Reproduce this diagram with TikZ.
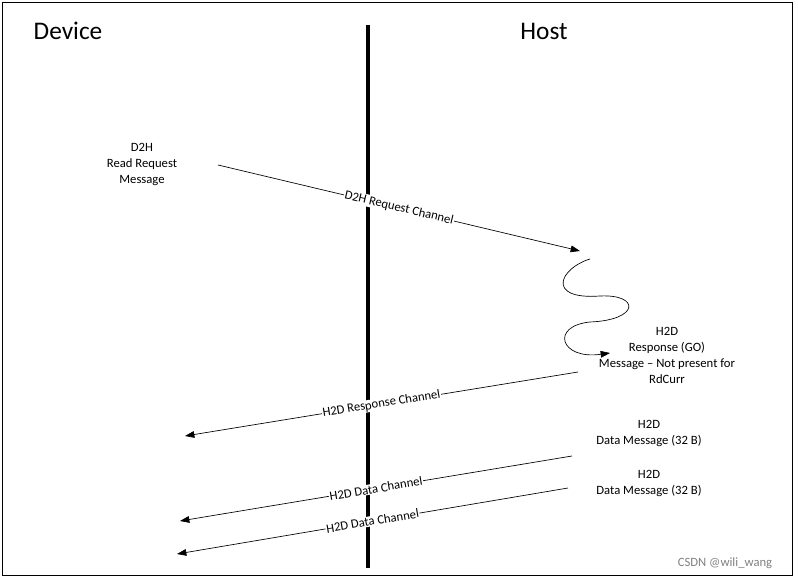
\documentclass[tikz,border=0pt]{standalone}
\usepackage{fontspec}
\setmainfont{Carlito}
\usetikzlibrary{arrows.meta}
\begin{document}
\begin{tikzpicture}[x=0.75pt,y=-0.75pt,
  msg/.style={-{Triangle[length=7pt,width=5pt]},line width=0.5pt},
  lbl/.style={font=\fontsize{9.5}{11}\selectfont,fill=white,inner sep=0.5pt,sloped},
  txt/.style={font=\fontsize{9.5}{12}\selectfont,align=center},
  big/.style={font=\fontsize{19}{22}\selectfont}]
\draw[line width=0.6pt] (2,2) rectangle (792,575);
\useasboundingbox (0,0) rectangle (798,580);
\coordinate (lt) at (368,25); \coordinate (lb) at (368,568);
\draw[line width=3.5pt] (lt) -- (lb);
\node[big] (dev) at (68,31) {Device};
\node[big] (host) at (544,31) {Host};
\node[txt] (d2h) at (142,164) {D2H\\Read Request\\Message};
\coordinate (a1s) at (218,165); \coordinate (a1e) at (580,251);
\draw[msg] (a1s) -- node[lbl] {D2H Request Channel} (a1e);
\coordinate (q0) at (590,259); \coordinate (q1) at (610,353);
\draw[msg] (q0) .. controls (560,268) and (545,300) .. (600,296)
  .. controls (640,294) and (640,320) .. (590,322)
  .. controls (550,326) and (560,360) .. (q1);
\node[txt] (rsp) at (667,355) {H2D\\Response (GO)\\Message -- Not present for\\RdCurr};
\coordinate (a2s) at (578,372); \coordinate (a2e) at (185,436);
\draw[msg] (a2s) -- node[lbl] {H2D Response Channel} (a2e);
\node[txt] (dm1) at (649,433) {H2D\\Data Message (32 B)};
\coordinate (a3s) at (572,456); \coordinate (a3e) at (180,521);
\draw[msg] (a3s) -- node[lbl] {H2D Data Channel} (a3e);
\node[txt] (dm2) at (649,483) {H2D\\Data Message (32 B)};
\coordinate (a4s) at (568,488); \coordinate (a4e) at (177,554);
\draw[msg] (a4s) -- node[lbl] {H2D Data Channel} (a4e);
\node[font=\fontsize{9.5}{11}\selectfont,text=gray] (wm) at (725,563) {CSDN @wili\_wang};
\end{tikzpicture}
\end{document}
